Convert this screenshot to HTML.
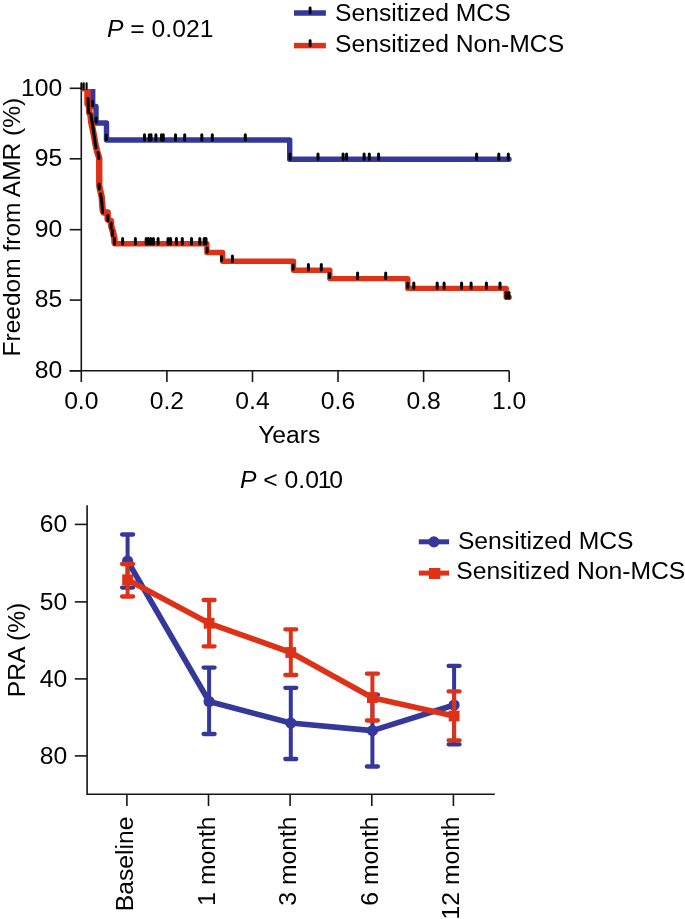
<!DOCTYPE html>
<html><head><meta charset="utf-8"><title>Figure</title>
<style>
html,body{margin:0;padding:0;background:#fff;width:685px;height:919px;overflow:hidden}
svg{display:block}
text{font-family:"Liberation Sans",Arial,Helvetica,sans-serif;font-size:24.7px;fill:#000}
</style></head><body>
<svg width="685" height="919" viewBox="0 0 685 919">
<rect width="685" height="919" fill="#fff"/>

<g stroke="#161616" stroke-width="1.6" fill="none">
<path d="M81.3 88.3V382.1M69.7 370.8H509.2"/>
<path d="M69.7 88.3H81.3"/>
<path d="M69.7 158.8H81.3"/>
<path d="M69.7 229.7H81.3"/>
<path d="M69.7 300.1H81.3"/>
<path d="M69.7 370.8H81.3"/>
<path d="M166.9 370.8V382.1"/>
<path d="M252.5 370.8V382.1"/>
<path d="M338.0 370.8V382.1"/>
<path d="M423.6 370.8V382.1"/>
<path d="M509.2 370.8V382.1"/>
</g>
<text x="62.2" y="95.6" text-anchor="end">100</text>
<text x="62.2" y="166.1" text-anchor="end">95</text>
<text x="62.2" y="237.0" text-anchor="end">90</text>
<text x="62.2" y="307.4" text-anchor="end">85</text>
<text x="62.2" y="378.1" text-anchor="end">80</text>
<text x="81.3" y="408.9" text-anchor="middle">0.0</text>
<text x="166.9" y="408.9" text-anchor="middle">0.2</text>
<text x="252.5" y="408.9" text-anchor="middle">0.4</text>
<text x="338.0" y="408.9" text-anchor="middle">0.6</text>
<text x="423.6" y="408.9" text-anchor="middle">0.8</text>
<text x="509.2" y="408.9" text-anchor="middle">1.0</text>
<text x="289.3" y="442.8" text-anchor="middle">Years</text>
<text transform="translate(20.4 227.1) rotate(-90)" text-anchor="middle" style="font-size:24.5px">Freedom from AMR (%)</text>
<text x="107" y="36.5"><tspan font-style="italic">P</tspan> = 0.021</text>
<path d="M294 13H325.9" stroke="#34389a" stroke-width="5.5"/>
<path d="M294 45.6H325.9" stroke="#de3218" stroke-width="5.5"/>
<path d="M310.1 8V13.1M310.1 40.6V45.7" stroke="#000" stroke-width="2.9" stroke-linecap="round"/>
<text x="335" y="20.6">Sensitized MCS</text>
<text x="335" y="51.5">Sensitized Non-MCS</text>
<defs><clipPath id="cp"><rect x="81" y="89" width="440" height="290"/></clipPath></defs>
<g clip-path="url(#cp)" fill="none" stroke-width="5.4" stroke-linejoin="round">
<path d="M81.3 88.3H92.7V106.5H96V123H106.5V140H289.7V159.2H509" stroke="#34389a" stroke-linecap="round"/>
<path d="M81.3 88.3 L87.5 88.3 L87.5 104 L89.3 106 L89.3 113 L90.5 115 L91 121 L93.8 134.7 L95.5 144.5 L97.2 151.8 L99.2 158 L99.3 186 L101.7 197 L102.7 210 L103.5 212.5 L107.6 212.5 L107.6 219.5 L111 221 L111.2 226 L113 232 L114.4 238 L114.6 243.7 L206.9 243.7 L206.9 252.5 L222.6 252.5 L222.6 261.2 L293.5 261.2 L293.5 270.2 L329.8 270.2 L329.8 278.6 L407.8 278.6 L407.8 288.4 L506.2 288.4 L506.2 297.3 L509.2 297.3" stroke="#de3218" stroke-linecap="round"/>
<path d="M81.3 88.3 L87.5 88.3 L87.5 104 L89.3 106 L89.3 113 L90.5 115 L91 121 L93.8 134.7 L95.5 144.5 L97.2 151.8 L99.2 158 L99.3 186 L101.7 197 L102.7 210 L103.5 212.5 L107.6 212.5 L107.6 219.5 L111 221 L111.2 226 L113 232 L114.4 238 L114.6 243.7" stroke="#de3218" stroke-width="6.4"/>
</g>
<path d="M144.5 134.7V140.1M149.3 134.7V140.1M151.0 134.7V140.1M155.9 134.7V140.1M161.5 134.7V140.1M163.3 134.7V140.1M175.5 134.7V140.1M184.7 134.7V140.1M201.8 134.7V140.1M212.3 134.7V140.1M245.3 134.7V140.1M92.4 101.6V105.8M96.1 117.9V122.1M106.3 135.2V139.4M290 153.9V159.3M318 153.9V159.3M343.1 153.9V159.3M346.6 153.9V159.3M364.1 153.9V159.3M369.3 153.9V159.3M378.6 153.9V159.3M476.6 153.9V159.3M498.8 153.9V159.3M508.3 153.9V159.3M114.4 238.6V244.0M122.6 238.6V244.0M135.4 238.6V244.0M146.2 238.6V244.0M148.2 238.6V244.0M150.7 238.6V244.0M153.4 238.6V244.0M158.1 238.6V244.0M168 238.6V244.0M170.6 238.6V244.0M176.4 238.6V244.0M182.3 238.6V244.0M191.5 238.6V244.0M199.8 238.6V244.0M204.2 238.6V244.0M206 238.6V244.0M207.1 247.9V252.1M221.6 256.4V260.6M232.4 256.0V261.4M293.1 265.1V269.3M308.4 264.5V269.9M321.3 264.5V269.9M329.6 273.4V277.6M357.6 273.1V278.5M385.7 273.1V278.5M407.8 283.2V287.4M413.8 282.9V288.3M437.2 282.9V288.3M444.1 282.9V288.3M461.6 282.9V288.3M471.1 282.9V288.3M486.4 282.9V288.3M500 282.9V288.3M506.1 292.4V297.9M509 292.4V297.9" stroke="#000" stroke-width="3" stroke-linecap="round" fill="none"/>
<path d="M81.4 83.4V89.0M83.7 83.4V89.0M86.6 83.4V89.0" stroke="#000" stroke-width="2.1" stroke-linecap="round" fill="none"/>
<path d="M88 98.5L88.5 112.5M90.8 114L91.8 120L93.5 131L94.8 140L96 148M98 152.5L98.9 158.5M99.2 184V189M100.6 194L101.8 202L102.6 212.5M107.9 215.5V220.8M111.1 223V228M112.3 230.5V235.7M114.5 238.8V243.8" stroke="#000" stroke-width="3" stroke-linecap="round" stroke-linejoin="round" fill="none"/>
<text x="240" y="488.3"><tspan font-style="italic">P</tspan> &lt; 0.0<tspan dx="-1.3">1</tspan><tspan dx="-2.2">0</tspan></text>
<g stroke="#161616" stroke-width="1.6" fill="none">
<path d="M87.1 505.2V794.3H494.8"/>
<path d="M74.8 524.4H87.1"/>
<path d="M74.8 601.9H87.1"/>
<path d="M74.8 678.9H87.1"/>
<path d="M74.8 755.9H87.1"/>
<path d="M126.9 794.3V806"/>
<path d="M208.5 794.3V806"/>
<path d="M290.1 794.3V806"/>
<path d="M371.8 794.3V806"/>
<path d="M453.4 794.3V806"/>
</g>
<text x="67.3" y="532.0" text-anchor="end">60</text>
<text x="67.3" y="609.5" text-anchor="end">50</text>
<text x="67.3" y="686.5" text-anchor="end">40</text>
<text x="67.3" y="763.5" text-anchor="end">80</text>
<text transform="translate(132.9 816.5) rotate(-90)" text-anchor="end">Baseline</text>
<text transform="translate(214.5 816.5) rotate(-90)" text-anchor="end">1 month</text>
<text transform="translate(296.1 816.5) rotate(-90)" text-anchor="end">3 month</text>
<text transform="translate(377.8 816.5) rotate(-90)" text-anchor="end">6 month</text>
<text transform="translate(459.4 816.5) rotate(-90)" text-anchor="end">12 month</text>
<text transform="translate(24.5 650) rotate(-90)" text-anchor="middle">PRA (%)</text>
<g stroke="#34389a" fill="none">
<path d="M127.6 534.5V587.6" stroke-width="4"/>
<path d="M122.1 534.5H133.1M122.1 587.6H133.1" stroke-width="4.3" stroke-linecap="round"/>
<path d="M209.1 667.6V734" stroke-width="4"/>
<path d="M203.6 667.6H214.6M203.6 734H214.6" stroke-width="4.3" stroke-linecap="round"/>
<path d="M290.8 687.8V759" stroke-width="4"/>
<path d="M285.3 687.8H296.3M285.3 759H296.3" stroke-width="4.3" stroke-linecap="round"/>
<path d="M372.4 694.7V766.5" stroke-width="4"/>
<path d="M366.9 694.7H377.9M366.9 766.5H377.9" stroke-width="4.3" stroke-linecap="round"/>
<path d="M454.1 665.9V744.3" stroke-width="4"/>
<path d="M448.6 665.9H459.6M448.6 744.3H459.6" stroke-width="4.3" stroke-linecap="round"/>
<path d="M127.6 561 L209.1 701.5 L290.8 723 L372.4 730.6 L454.1 705" stroke-width="5.6" stroke-linejoin="round"/>
</g>
<circle cx="127.6" cy="561" r="5.6" fill="#34389a"/>
<circle cx="209.1" cy="701.5" r="5.6" fill="#34389a"/>
<circle cx="290.8" cy="723" r="5.6" fill="#34389a"/>
<circle cx="372.4" cy="730.6" r="5.6" fill="#34389a"/>
<circle cx="454.1" cy="705" r="5.6" fill="#34389a"/>
<g stroke="#de3218" fill="none">
<path d="M127.6 564V596.5" stroke-width="4"/>
<path d="M122.1 564H133.1M122.1 596.5H133.1" stroke-width="4.3" stroke-linecap="round"/>
<path d="M209.1 600V646.3" stroke-width="4"/>
<path d="M203.6 600H214.6M203.6 646.3H214.6" stroke-width="4.3" stroke-linecap="round"/>
<path d="M290.8 629.3V675" stroke-width="4"/>
<path d="M285.3 629.3H296.3M285.3 675H296.3" stroke-width="4.3" stroke-linecap="round"/>
<path d="M372.4 673.7V720.5" stroke-width="4"/>
<path d="M366.9 673.7H377.9M366.9 720.5H377.9" stroke-width="4.3" stroke-linecap="round"/>
<path d="M454.1 691.4V740.3" stroke-width="4"/>
<path d="M448.6 691.4H459.6M448.6 740.3H459.6" stroke-width="4.3" stroke-linecap="round"/>
<path d="M127.6 579.8 L209.1 623.3 L290.8 652.5 L372.4 697.7 L454.1 716" stroke-width="5.6" stroke-linejoin="round"/>
</g>
<rect x="122.2" y="574.4" width="10.8" height="10.8" fill="#de3218"/>
<rect x="203.7" y="617.9" width="10.8" height="10.8" fill="#de3218"/>
<rect x="285.4" y="647.1" width="10.8" height="10.8" fill="#de3218"/>
<rect x="367.0" y="692.3" width="10.8" height="10.8" fill="#de3218"/>
<rect x="448.7" y="710.6" width="10.8" height="10.8" fill="#de3218"/>
<path d="M418.8 541.8H449.1" stroke="#34389a" stroke-width="5"/>
<circle cx="433.9" cy="541.9" r="5.6" fill="#34389a"/>
<path d="M418.8 573.1H449.1" stroke="#de3218" stroke-width="5"/>
<rect x="428.9" y="568" width="11.5" height="11" fill="#de3218"/>
<text x="457.9" y="549.3">Sensitized MCS</text>
<text x="456.2" y="579.1">Sensitized Non-MCS</text>
</svg></body></html>
